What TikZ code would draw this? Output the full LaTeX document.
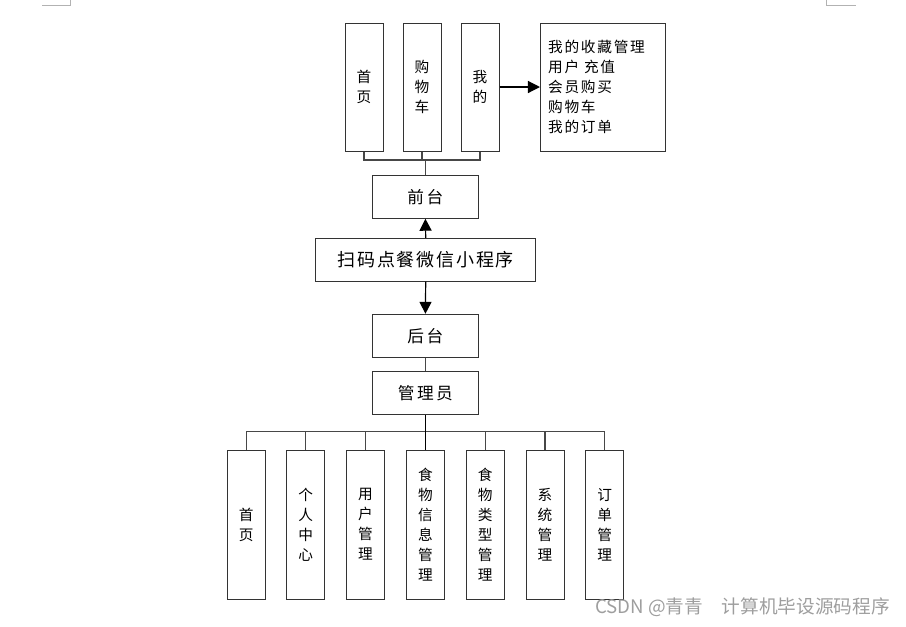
\documentclass[tikz,border=0pt]{standalone}
\usepackage{fontspec}
\setmainfont{Noto Sans CJK SC}
\usetikzlibrary{arrows.meta}
\begin{document}
\begin{tikzpicture}[x=0.75pt,y=-0.75pt,
  box/.style={draw=black!80,line width=0.75pt,fill=white,inner sep=0pt,align=center},
  vbox/.style={box,minimum width=28.5pt,font=\fontsize{11}{15}\selectfont},
  topbox/.style={vbox,minimum height=96pt},
  botbox/.style={vbox,minimum height=111.75pt},
  midbox/.style={box,minimum width=79.5pt,minimum height=32.25pt,font=\fontsize{12.5}{15}\selectfont\addfontfeature{LetterSpace=15}},
  conn/.style={draw=black!72,line width=0.8pt},
  arr/.style={draw=black,line width=0.9pt,-{Triangle[length=9pt,width=9pt]}},
  cornermark/.style={draw=black!30,line width=0.6pt}]
\useasboundingbox (0,0) rectangle (906,626);
% corner marks
\draw[cornermark] (42,5) -- (70,5) -- (70,0);
\draw[cornermark] (826,0) -- (826,5) -- (856,5);
% top boxes
\node[topbox] (t1) at (364,87) {首\\页};
\node[topbox] (t2) at (422,87) {购\\物\\车};
\node[topbox] (t3) at (480,87) {我\\的};
\node[box,minimum width=93.4pt,minimum height=96pt,text width=82pt,align=left,
  font=\fontsize{11}{15}\selectfont\addfontfeature{LetterSpace=12}] (lst) at (602.75,87)
  {我的收藏管理\\用户 充值\\会员购买\\购物车\\我的订单};
\draw[arr] (t3.east) -- (lst.west);
% front
\node[midbox] (qt) at (425.4,196.7) {前台};
\coordinate (tj) at (425.4,160);
\draw[conn] (t1.south) |- (t3.south |- tj) -- (t3.south);
\draw[conn] (t2.south) -- (t2.south |- tj);
\draw[conn] (qt.north) -- (qt.north |- tj);
% main
\node[box,minimum width=165pt,minimum height=32pt,font=\fontsize{13.5}{15}\selectfont\addfontfeature{LetterSpace=10}] (app) at (425.7,259.7) {扫码点餐微信小程序};
\draw[arr] (app.north) -- (qt.south);
\node[midbox] (ht) at (425.4,335.8) {后台};
\draw[arr] (app.south) -- (ht.north);
\node[midbox] (gly) at (425.4,392.8) {管理员};
\draw[conn] (ht.south) -- (gly.north);
% bottom boxes
\node[botbox] (b1) at (246.3,524.5) {首\\页};
\node[botbox] (b2) at (305.7,524.5) {个\\人\\中\\心};
\node[botbox] (b3) at (365.5,524.5) {用\\户\\管\\理};
\node[botbox] (b4) at (425.4,524.5) {食\\物\\信\\息\\管\\理};
\node[botbox] (b5) at (485.2,524.5) {食\\物\\类\\型\\管\\理};
\node[botbox] (b6) at (545,524.5) {系\\统\\管\\理};
\node[botbox] (b7) at (604.7,524.5) {订\\单\\管\\理};
\coordinate (bj) at (425.4,431.7);
\draw[conn] (b1.north) |- (b7.north |- bj) -- (b7.north);
\foreach \i in {2,3,5,6} \draw[conn] (b\i.north) -- (b\i.north |- bj);
\draw[conn,draw=black] (gly.south) -- (b4.north);
% watermark
\node[anchor=east,inner sep=0pt,text=black!38,font=\fontsize{14}{15}\selectfont] (wm) at (890,607) {CSDN @青青\quad 计算机毕设源码程序};
\end{tikzpicture}
\end{document}
